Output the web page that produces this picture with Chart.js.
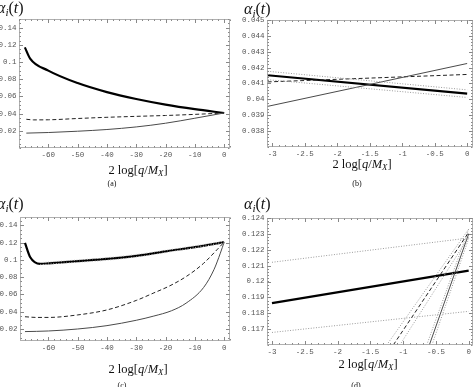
<!DOCTYPE html>
<html><head><meta charset="utf-8">
<script src="https://cdn.jsdelivr.net/npm/chart.js@4/dist/chart.umd.min.js"></script>
<style>
html,body{margin:0;padding:0;background:#fff;width:474px;height:387px;overflow:hidden;position:relative}
.p{position:absolute;width:237px;height:172px}
.lab{position:absolute;font-family:"Liberation Serif","DejaVu Serif",serif;color:#111;white-space:nowrap;line-height:1}
.ylab{font-size:16px}
.xlab{font-size:12.5px;transform:translate(-50%,-50%)}
.sub{font-size:8px;transform:translate(-50%,-50%)}
.lab sub{font-size:70%;vertical-align:-0.25em}
</style></head><body>
<div class="p" style="left:0;top:0"><canvas id="ca" width="237" height="172"></canvas></div>
<div class="p" style="left:237px;top:0"><canvas id="cb" width="237" height="172"></canvas></div>
<div class="p" style="left:0;top:193px"><canvas id="cc" width="237" height="172"></canvas></div>
<div class="p" style="left:237px;top:193px"><canvas id="cd" width="237" height="172"></canvas></div>

<div class="lab ylab" style="left:-3px;top:0px"><i>α<sub>i</sub></i>(<i>t</i>)</div>
<div class="lab ylab" style="left:244px;top:1px"><i>α<sub>i</sub></i>(<i>t</i>)</div>
<div class="lab ylab" style="left:-3px;top:196px"><i>α<sub>i</sub></i>(<i>t</i>)</div>
<div class="lab ylab" style="left:244px;top:196px"><i>α<sub>i</sub></i>(<i>t</i>)</div>

<div class="lab xlab" style="left:138px;top:171px">2 log[<i>q</i>/<i>M</i><sub><i>X</i></sub>]</div>
<div class="lab xlab" style="left:362px;top:165px">2 log[<i>q</i>/<i>M</i><sub><i>X</i></sub>]</div>
<div class="lab xlab" style="left:138px;top:370px">2 log[<i>q</i>/<i>M</i><sub><i>X</i></sub>]</div>
<div class="lab xlab" style="left:368px;top:365px">2 log[<i>q</i>/<i>M</i><sub><i>X</i></sub>]</div>

<div class="lab sub" style="left:112px;top:184px">(a)</div>
<div class="lab sub" style="left:357px;top:184px">(b)</div>
<div class="lab sub" style="left:122px;top:386px">(c)</div>
<div class="lab sub" style="left:356px;top:386px">(d)</div>

<script>
// ---------- Panel (a) ----------
const aXTicks = [-60, -50, -40, -30, -20, -10, 0];
const aYTicks = [0.02, 0.04, 0.06, 0.08, 0.1, 0.12, 0.14];
const aThickX = [-68, -66.2, -60, -50, -40, -30, -20, -10, 0];
const aThickY = [0.117, 0.104, 0.090, 0.0755, 0.065, 0.057, 0.0505, 0.0452, 0.0407];
const aDashX  = [-67.5, -65, -60, -50, -40, -30, -20, -10, 0];
const aDashY  = [0.0334, 0.0327, 0.0328, 0.0343, 0.0357, 0.0368, 0.0378, 0.0391, 0.0407];
const aThinX  = [-67.5, -60, -50, -40, -30, -20, -10, 0];
const aThinY  = [0.0173, 0.018, 0.0195, 0.0215, 0.0245, 0.0288, 0.0346, 0.0407];

// ---------- Panel (b) ----------
const bXTicks = [-3, -2.5, -2, -1.5, -1, -0.5, 0];
const bYTicks = [0.038, 0.039, 0.04, 0.041, 0.042, 0.043, 0.044, 0.045];
const bX      = [-3.07, 0];
const bThickY = [0.04152, 0.04036];
const bDashY  = [0.0411, 0.04157];
const bThinY  = [0.03956, 0.04226];
const bDotUpY = [0.04177, 0.0406];
const bDotLoY = [0.04124, 0.04012];

// ---------- Panel (c) ----------
const cXTicks = [-60, -50, -40, -30, -20, -10, 0];
const cYTicks = [0.02, 0.04, 0.06, 0.08, 0.1, 0.12, 0.14];
const cThickX = [-68, -66.2, -62.8, -60, -50, -40, -30, -20, -10, 0];
const cThickY = [0.1196, 0.103, 0.0954, 0.0960, 0.0985, 0.1010, 0.1045, 0.1098, 0.1148, 0.1205];
const cDashX  = [-68, -64, -60, -50, -40, -30, -24, -18.5, -12.8, -7, -2.5, 0];
const cDashY  = [0.0341, 0.0333, 0.0333, 0.0362, 0.042, 0.053, 0.0617, 0.070, 0.081, 0.096, 0.1115, 0.1205];
const cThinX  = [-68, -60, -50, -40, -30, -24, -18, -13, -7, -3.5, -1.3, 0];
const cThinY  = [0.0169, 0.0176, 0.0199, 0.0238, 0.030, 0.0349, 0.041, 0.0498, 0.068, 0.0885, 0.1077, 0.1205];
const cBandX  = [-62.8, -35, 0];
const cBandUpY = [0.0968, 0.1042, 0.1215];
const cBandLoY = [0.0944, 0.1012, 0.1195];

// ---------- Panel (d) ----------
const dXTicks = [-3, -2.5, -2, -1.5, -1, -0.5, 0];
const dYTicks = [0.117, 0.118, 0.119, 0.12, 0.121, 0.122, 0.123, 0.124];
const dThickX = [-3, 0];  const dThickY = [0.11864, 0.12068];
const dDotUpY = [0.12121, 0.12274];
const dDotLoY = [0.11679, 0.11812];
const dDashX  = [-1.15, 0];  const dDashY = [0.1160, 0.1231];
const dDashBandLX = [-1.25, 0]; const dDashBandLY = [0.1160, 0.1233];
const dDashBandRX = [-1.05, 0]; const dDashBandRY = [0.1160, 0.1228];
const dThinX  = [-0.6, 0];  const dThinY = [0.1160, 0.1230];
const dThinBandLX = [-0.64, 0]; const dThinBandLY = [0.1160, 0.1233];
const dThinBandRX = [-0.56, 0]; const dThinBandRY = [0.1160, 0.1227];

const pts = (xs, ys) => xs.map((x, i) => ({x, y: ys[i]}));
const fmt = v => String(+(+v).toFixed(4));

const ST = {
  thick: {borderColor:'#000', borderWidth:2.2},
  dash:  {borderColor:'#222', borderWidth:1, borderDash:[4,2.5]},
  thin:  {borderColor:'#4a4a4a', borderWidth:1},
  dot:   {borderColor:'#9a9a9a', borderWidth:1, borderDash:[1,1.6]},
  dotc:  {borderColor:'#c4c4c4', borderWidth:1, borderDash:[1,1.6]}
};
function ds(style, data, smooth){
  return Object.assign({data, pointRadius:0, fill:false, borderCapStyle:'butt',
    cubicInterpolationMode: smooth ? 'monotone' : 'default', tension:0}, ST[style]);
}

const framePlugin = {
  id:'frame',
  afterDatasetsDraw(chart, args, o){
    const {ctx, chartArea:a, scales:{x, y}} = chart;
    ctx.save();
    ctx.strokeStyle = '#b0b0b0'; ctx.lineWidth = 1;
    const L = Math.round(a.left)+0.5, R = Math.round(a.right)-0.5, T = Math.round(a.top)+0.5, B = Math.round(a.bottom)-0.5;
    ctx.strokeRect(L, T, R-L, B-T);
    ctx.strokeStyle = '#888';
    const tick = (len, isX, v) => {
      ctx.beginPath();
      if (isX){ const p = Math.round(x.getPixelForValue(v))+0.5;
        ctx.moveTo(p,B); ctx.lineTo(p,B-len); ctx.moveTo(p,T); ctx.lineTo(p,T+len);
      } else { const p = Math.round(y.getPixelForValue(v))+0.5;
        ctx.moveTo(L,p); ctx.lineTo(L+len,p); ctx.moveTo(R,p); ctx.lineTo(R-len,p); }
      ctx.stroke();
    };
    const minor = (step, isX, sc) => {
      const s0 = Math.ceil(sc.min/step - 1e-9);
      for (let k = s0; k*step <= sc.max + 1e-12; k++) tick(1.5, isX, k*step);
    };
    minor(o.xMinor, true, x); minor(o.yMinor, false, y);
    o.xTicks.forEach(v => tick(3.5, true, v));
    o.yTicks.forEach(v => tick(3.5, false, v));
    ctx.restore();
  }
};

function make(id, c){
  const H = 172, W = 237;
  new Chart(document.getElementById(id), {
    type:'line',
    data:{datasets:c.datasets},
    plugins:[framePlugin],
    options:{
      responsive:false, animation:false, events:[],
      layout:{padding:{left:0, top:c.area.t, right:W - c.area.r, bottom:0}},
      plugins:{legend:{display:false}, tooltip:{enabled:false}, frame:{xTicks:c.xTicks, yTicks:c.yTicks, xMinor:c.xMinor, yMinor:c.yMinor}},
      scales:{
        x:{type:'linear', min:c.xr[0], max:c.xr[1],
           afterBuildTicks: s => { s.ticks = c.xTicks.map(v => ({value:v})); },
           afterFit: s => { s.height = H - c.area.b; },
           grid:{display:false, drawTicks:false}, border:{display:false},
           ticks:{font:{family:'Liberation Mono', size:7.5}, color:'#555', padding:2.5, maxRotation:0, autoSkip:false, callback: v => fmt(v)}},
        y:{type:'linear', min:c.yr[0], max:c.yr[1],
           afterBuildTicks: s => { s.ticks = c.yTicks.map(v => ({value:v})); },
           afterFit: s => { s.width = c.area.l; },
           grid:{display:false, drawTicks:false}, border:{display:false},
           ticks:{font:{family:'Liberation Mono', size:7.5}, color:'#555', padding:2.5, autoSkip:false, callback: v => fmt(v)}}
      }
    }
  });
}

make('ca', {area:{l:19, t:19, r:230, b:148}, xr:[-70, 2], yr:[0, 0.15], xTicks:aXTicks, yTicks:aYTicks, xMinor:2, yMinor:0.005,
  datasets:[ds('thin', pts(aThinX, aThinY), true), ds('dash', pts(aDashX, aDashY), true), ds('thick', pts(aThickX, aThickY), true)]});

make('cb', {area:{l:30, t:20, r:236, b:147}, xr:[-3.08, 0.09], yr:[0.037, 0.045], xTicks:bXTicks, yTicks:bYTicks, xMinor:0.1, yMinor:0.0002,
  datasets:[ds('dot', pts(bX, bDotUpY)), ds('dot', pts(bX, bDotLoY)), ds('thin', pts(bX, bThinY)), ds('dash', pts(bX, bDashY)), ds('thick', pts(bX, bThickY))]});

make('cc', {area:{l:20, t:24, r:230, b:148}, xr:[-69.7, 2], yr:[0.006, 0.1496], xTicks:cXTicks, yTicks:cYTicks, xMinor:2, yMinor:0.005,
  datasets:[ds('dotc', pts(cBandX, cBandUpY), true), ds('dotc', pts(cBandX, cBandLoY), true),
            ds('thin', pts(cThinX, cThinY), true), ds('dash', pts(cDashX, cDashY), true), ds('thick', pts(cThickX, cThickY), true)]});

make('cd', {area:{l:30, t:25, r:236, b:152}, xr:[-3.076, 0.066], yr:[0.116, 0.124], xTicks:dXTicks, yTicks:dYTicks, xMinor:0.1, yMinor:0.0002,
  datasets:[ds('dot', pts(dThickX, dDotUpY)), ds('dot', pts(dThickX, dDotLoY)),
            ds('dot', pts(dDashBandLX, dDashBandLY)), ds('dot', pts(dDashBandRX, dDashBandRY)),
            ds('dot', pts(dThinBandLX, dThinBandLY)), ds('dot', pts(dThinBandRX, dThinBandRY)),
            ds('thin', pts(dThinX, dThinY)), ds('dash', pts(dDashX, dDashY)), ds('thick', pts(dThickX, dThickY))]});
</script>
</body></html>
